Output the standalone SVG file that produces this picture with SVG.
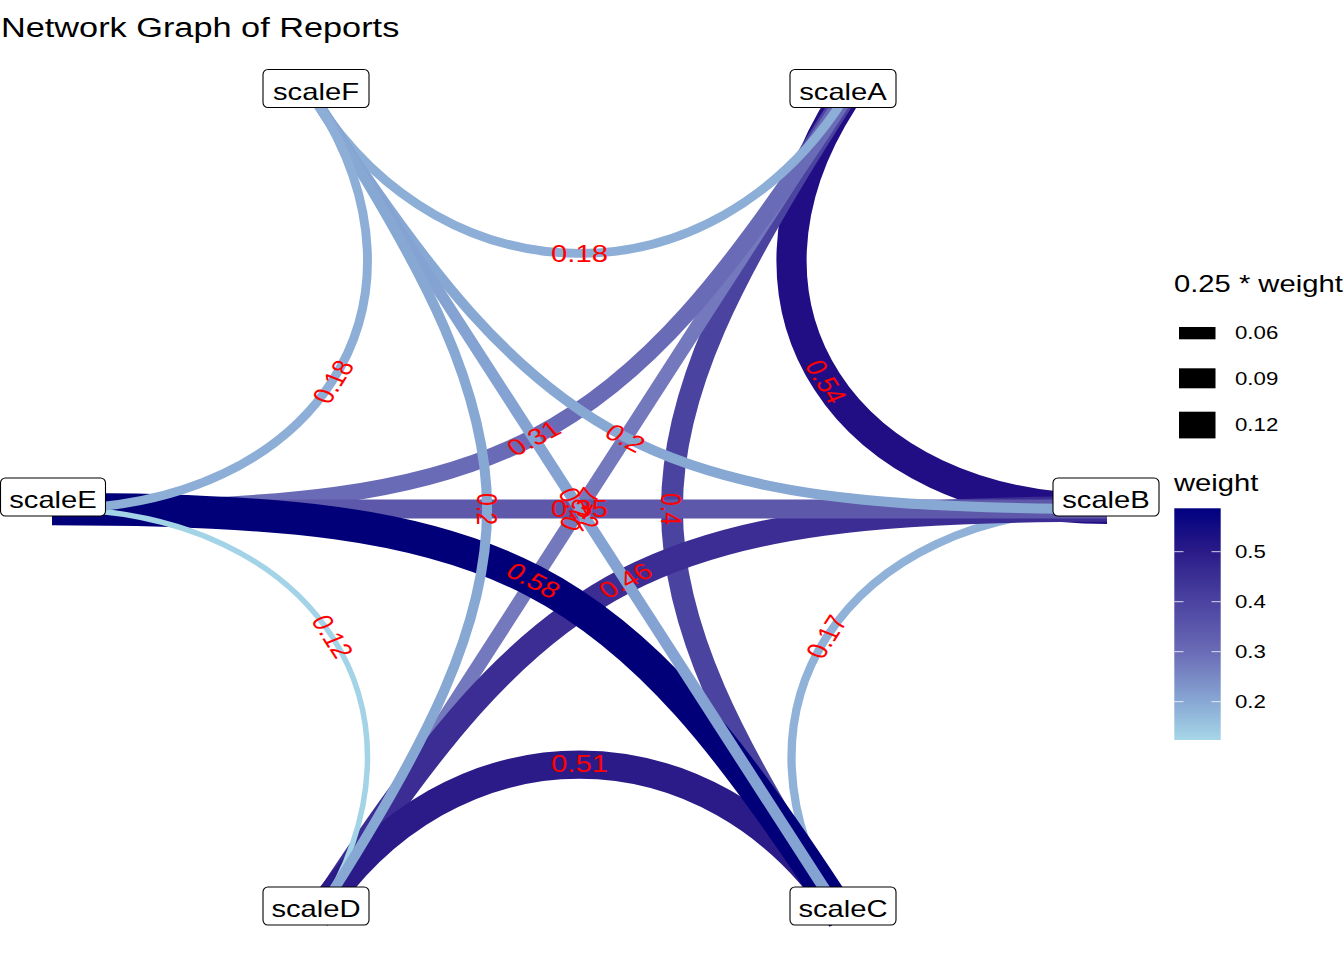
<svg xmlns="http://www.w3.org/2000/svg" width="1344" height="960" viewBox="0 0 1344 960">
<style>
.e{fill:none;stroke-linecap:butt;vector-effect:non-scaling-stroke}
.el{font-family:"Liberation Sans",Arial,sans-serif;font-size:23px;fill:#ff0000;text-anchor:middle}
.nb{fill:#ffffff;stroke:#000000;stroke-width:1.1}
.nt{font-family:"Liberation Sans",Arial,sans-serif;font-size:23px;fill:#000000;text-anchor:middle}
.lt{font-family:"Liberation Sans",Arial,sans-serif;font-size:23px;fill:#000000}
.ll{font-family:"Liberation Sans",Arial,sans-serif;font-size:17.5px;fill:#000000}
.tk{stroke:#ffffff;stroke-width:1;opacity:0.8}
</style>
<defs>
<linearGradient id="cb" x1="0" y1="0" x2="0" y2="1">
<stop offset="0" stop-color="#000080"/>
<stop offset="0.187" stop-color="#2B1B88"/>
<stop offset="0.403" stop-color="#4B43A0"/>
<stop offset="0.619" stop-color="#6A6BB6"/>
<stop offset="0.835" stop-color="#88A8D4"/>
<stop offset="1" stop-color="#A6D6E7"/>
</linearGradient>
</defs>
<rect x="0" y="0" width="1344" height="960" fill="#ffffff"/>
<text class="lt" transform="translate(1,37) scale(1.27,1)" style="font-size:27px">Network Graph of Reports</text>

<g id="edges" transform="matrix(527.5 0 0 -472.3 579.5 509)">
<path id="e-AB" class="e" stroke="#220E84" stroke-width="30.2" d="M1,0 C0.5,0 0.25,0.4330127 0.5,0.8660254"/>
<path id="e-AC" class="e" stroke="#4B43A0" stroke-width="21.9" d="M0.5,-0.8660254 C0.0669873,-0.1160254 0.0669873,0.1160254 0.5,0.8660254"/>
<path id="e-AD" class="e" stroke="#7478BC" stroke-width="14.2" d="M0.5,0.8660254 L-0.5,-0.8660254"/>
<path id="e-AE" class="e" stroke="#6A6BB6" stroke-width="16.6" d="M0.5,0.8660254 C0.0669873,0.1160254 -0.1339746,0 -1,0"/>
<path id="e-AF" class="e" stroke="#8DAED6" stroke-width="8.9" d="M0.5,0.8660254 C0.25,0.4330127 -0.25,0.4330127 -0.5,0.8660254"/>
<path id="e-BC" class="e" stroke="#90B2D8" stroke-width="8.3" d="M0.5,-0.8660254 C0.25,-0.4330127 0.5,0 1,0"/>
<path id="e-BD" class="e" stroke="#3B2D94" stroke-width="25.5" d="M-0.5,-0.8660254 C-0.0669873,-0.1160254 0.1339746,0 1,0"/>
<path id="e-BE" class="e" stroke="#5D58AA" stroke-width="18.9" d="M-1,0 L1,0"/>
<path id="e-BF" class="e" stroke="#88A8D4" stroke-width="10.1" d="M1,0 C0.1339746,0 -0.0669873,0.1160254 -0.5,0.8660254"/>
<path id="e-CD" class="e" stroke="#2B1B88" stroke-width="28.4" d="M-0.5,-0.8660254 C-0.25,-0.4330127 0.25,-0.4330127 0.5,-0.8660254"/>
<path id="e-CE" class="e" stroke="#020079" stroke-width="32.6" d="M-1,0 C-0.1339746,0 0.0669873,-0.1160254 0.5,-0.8660254"/>
<path id="e-CF" class="e" stroke="#85A3D2" stroke-width="11.2" d="M-0.5,0.8660254 L0.5,-0.8660254"/>
<path id="e-DE" class="e" stroke="#A3D3E6" stroke-width="5.5" d="M-1,0 C-0.5,0 -0.25,-0.4330127 -0.5,-0.8660254"/>
<path id="e-DF" class="e" stroke="#88A8D4" stroke-width="10.1" d="M-0.5,0.8660254 C-0.0669873,0.1160254 -0.0669873,-0.1160254 -0.5,-0.8660254"/>
<path id="e-EF" class="e" stroke="#8DAED6" stroke-width="8.9" d="M-0.5,0.8660254 C-0.25,0.4330127 -0.5,0 -1,0"/>
</g>

<g id="edge-labels">
<text class="el" dy="0.36em" transform="translate(826.2,381.5) scale(1.27,1) rotate(63.1)">0.54</text>
<text class="el" dy="0.36em" transform="translate(671.3,509) scale(1.27,1) rotate(90)">0.4</text>
<text class="el" dy="0.36em" transform="translate(579.5,509) scale(1.27,1) rotate(-63.1)">0.27</text>
<text class="el" dy="0.36em" transform="translate(533.6,437.8) scale(1.27,1) rotate(-33.25)">0.31</text>
<text class="el" dy="0.36em" transform="translate(579.5,254) scale(1.27,1)">0.18</text>
<text class="el" dy="0.36em" transform="translate(826.2,636.5) scale(1.27,1) rotate(-63.1)">0.17</text>
<text class="el" dy="0.36em" transform="translate(625.4,580.2) scale(1.27,1) rotate(-33.25)">0.46</text>
<text class="el" dy="0.36em" transform="translate(579.5,509) scale(1.27,1)">0.35</text>
<text class="el" dy="0.36em" transform="translate(625.4,437.8) scale(1.27,1) rotate(33.25)">0.2</text>
<text class="el" dy="0.36em" transform="translate(579.5,764) scale(1.27,1)">0.51</text>
<text class="el" dy="0.36em" transform="translate(533.6,580.2) scale(1.27,1) rotate(33.25)">0.58</text>
<text class="el" dy="0.36em" transform="translate(579.5,509) scale(1.27,1) rotate(63.1)">0.22</text>
<text class="el" dy="0.36em" transform="translate(332.8,636.5) scale(1.27,1) rotate(63.1)">0.12</text>
<text class="el" dy="0.36em" transform="translate(487.7,509) scale(1.27,1) rotate(90)">0.2</text>
<text class="el" dy="0.36em" transform="translate(332.8,381.5) scale(1.27,1) rotate(-63.1)">0.18</text>
</g>

<g id="node-scaleA"><rect class="nb" x="790" y="69.5" width="106" height="38" rx="5"/><text class="nt" transform="translate(843,99.5) scale(1.27,1)">scaleA</text></g>
<g id="node-scaleF"><rect class="nb" x="263" y="69.5" width="106" height="38" rx="5"/><text class="nt" transform="translate(316,99.5) scale(1.27,1)">scaleF</text></g>
<g id="node-scaleE"><rect class="nb" x="0.5" y="478" width="105" height="38" rx="5"/><text class="nt" transform="translate(53,508) scale(1.27,1)">scaleE</text></g>
<g id="node-scaleB"><rect class="nb" x="1053" y="478" width="106" height="38" rx="5"/><text class="nt" transform="translate(1106,508) scale(1.27,1)">scaleB</text></g>
<g id="node-scaleC"><rect class="nb" x="790" y="887" width="106" height="38" rx="5"/><text class="nt" transform="translate(843,917) scale(1.27,1)">scaleC</text></g>
<g id="node-scaleD"><rect class="nb" x="263" y="887" width="106" height="38" rx="5"/><text class="nt" transform="translate(316,917) scale(1.27,1)">scaleD</text></g>

<g id="legend-width">
<text class="lt" transform="translate(1174,292) scale(1.27,1)">0.25 * weight</text>
<rect x="1179" y="327" width="36.5" height="12.3" fill="#000000"/>
<rect x="1179" y="368.3" width="36.5" height="20" fill="#000000"/>
<rect x="1179" y="411.7" width="36.5" height="26.7" fill="#000000"/>
<text class="ll" transform="translate(1235,339.3) scale(1.27,1)">0.06</text>
<text class="ll" transform="translate(1235,384.6) scale(1.27,1)">0.09</text>
<text class="ll" transform="translate(1235,431.3) scale(1.27,1)">0.12</text>
</g>

<g id="legend-colour">
<text class="lt" transform="translate(1174,491) scale(1.27,1)">weight</text>
<rect x="1174.3" y="508.3" width="46.4" height="231.7" fill="url(#cb)"/>
<line class="tk" x1="1174.3" y1="551.7" x2="1183.5" y2="551.7"/><line class="tk" x1="1211.5" y1="551.7" x2="1220.7" y2="551.7"/>
<line class="tk" x1="1174.3" y1="601.7" x2="1183.5" y2="601.7"/><line class="tk" x1="1211.5" y1="601.7" x2="1220.7" y2="601.7"/>
<line class="tk" x1="1174.3" y1="651.7" x2="1183.5" y2="651.7"/><line class="tk" x1="1211.5" y1="651.7" x2="1220.7" y2="651.7"/>
<line class="tk" x1="1174.3" y1="701.7" x2="1183.5" y2="701.7"/><line class="tk" x1="1211.5" y1="701.7" x2="1220.7" y2="701.7"/>
<text class="ll" transform="translate(1235,558) scale(1.27,1)">0.5</text>
<text class="ll" transform="translate(1235,608) scale(1.27,1)">0.4</text>
<text class="ll" transform="translate(1235,658) scale(1.27,1)">0.3</text>
<text class="ll" transform="translate(1235,708) scale(1.27,1)">0.2</text>
</g>
</svg>
